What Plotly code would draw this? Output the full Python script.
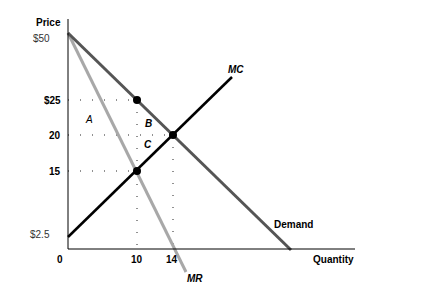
import plotly.graph_objects as go

# Diagram units (schematic monopoly diagram; scale is not linear in the labels)
demand_q = [0, 223]
demand_p = [216, -1]
mr_q = [0, 118]
mr_p = [216, -23]
mc_q = [0, 164]
mc_p = [12, 172]

# Key points: demand price at monopoly Q, competitive equilibrium, MR=MC
point_q = [69, 105, 69]
point_p = [149, 114, 78]

# Axis tick labels
ytick_vals = [211, 149, 114, 78, 15]
ytick_text = ["$50", "<b>$25</b>", "<b>20</b>", "<b>15</b>", "$2.5"]
ytick_bold = [False, True, True, True, False]
xtick_vals = [-8, 69, 104]
xtick_text = ["0", "10", "14"]

x_axis_end = 287
y_axis_end = 230

FONT = "Liberation Sans, Arial, sans-serif"

fig = go.Figure()

# dotted guide lines
for q, p in zip(point_q, point_p):
    fig.add_trace(go.Scatter(x=[0, q], y=[p, p], mode="lines",
                             line=dict(color="#222", width=1, dash="1px,11px"),
                             hoverinfo="skip", showlegend=False))
for q in sorted(set(point_q)):
    ptop = max(p for qq, p in zip(point_q, point_p) if qq == q)
    fig.add_trace(go.Scatter(x=[q, q], y=[ptop, 0], mode="lines",
                             line=dict(color="#222", width=1, dash="1px,11px"),
                             hoverinfo="skip", showlegend=False))

fig.add_trace(go.Scatter(x=mr_q, y=mr_p, mode="lines",
                         line=dict(color="#a8a8a8", width=3), showlegend=False))
fig.add_trace(go.Scatter(x=demand_q, y=demand_p, mode="lines",
                         line=dict(color="#555555", width=3), showlegend=False))
fig.add_trace(go.Scatter(x=mc_q, y=mc_p, mode="lines",
                         line=dict(color="#000000", width=2.5), showlegend=False))
fig.add_trace(go.Scatter(x=point_q, y=point_p, mode="markers",
                         marker=dict(color="#000", size=8), showlegend=False))

# axes lines
fig.add_shape(type="line", x0=0, y0=0, x1=0, y1=y_axis_end,
              line=dict(color="#000", width=1))
fig.add_shape(type="line", x0=0, y0=0, x1=x_axis_end, y1=0,
              line=dict(color="#000", width=1))

ann = []
for v, t, b in zip(ytick_vals, ytick_text, ytick_bold):
    ann.append(dict(x=-5 if b else -16, y=v, text=t, showarrow=False,
                    xanchor="right", yanchor="middle",
                    font=dict(size=10, color="#000" if b else "#333", family=FONT)))
for v, t in zip(xtick_vals, xtick_text):
    ann.append(dict(x=v, y=-10, text=f"<b>{t}</b>", showarrow=False,
                    xanchor="center", yanchor="middle",
                    font=dict(size=10, color="#000", family=FONT)))

labels = [
    ("<b>Price</b>", -5, 227, "right"),
    ("<b>Quantity</b>", 265, -10, "center"),
    ("<b>Demand</b>", 225, 25, "center"),
    ("<b><i>MC</i></b>", 168, 180, "center"),
    ("<b><i>MR</i></b>", 127, -29, "center"),
    ("<i>A</i>", 21, 130, "center"),
    ("<b><i>B</i></b>", 80, 126, "center"),
    ("<b><i>C</i></b>", 80, 105, "center"),
]
for t, x, y, xa in labels:
    ann.append(dict(x=x, y=y, text=t, showarrow=False, xanchor=xa,
                    yanchor="middle", font=dict(size=10, color="#000", family=FONT)))

fig.update_layout(
    width=424, height=302,
    margin=dict(l=0, r=0, t=0, b=0),
    paper_bgcolor="white", plot_bgcolor="white",
    xaxis=dict(range=[-68, 356], visible=False, fixedrange=True),
    yaxis=dict(range=[-53, 249], visible=False, fixedrange=True),
    annotations=ann,
    showlegend=False,
)

fig.write_html("out.html")
